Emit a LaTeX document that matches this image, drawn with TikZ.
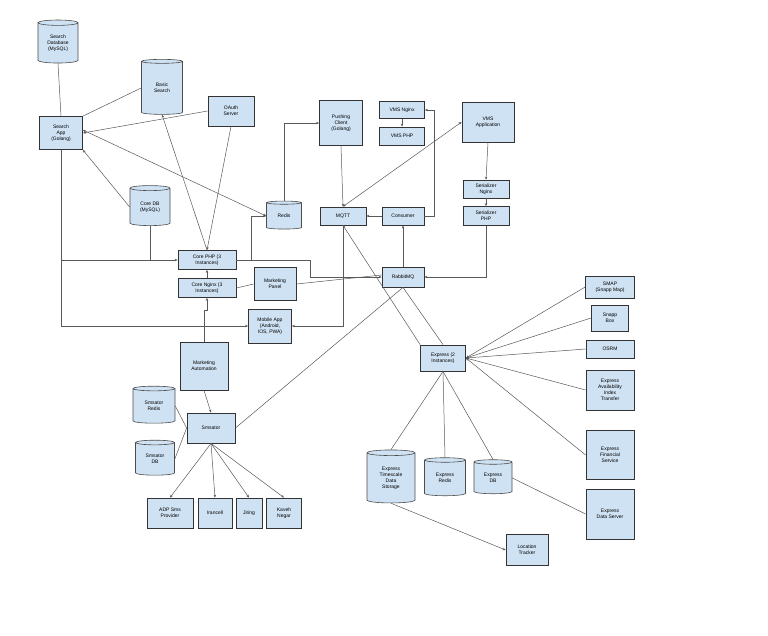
\documentclass[tikz,border=0pt]{standalone}
\usepackage{fontspec}
\setmainfont{Liberation Sans}
\usetikzlibrary{shapes.geometric,arrows.meta}
\begin{document}
\begin{tikzpicture}[x=1pt,y=-1pt,
  every node/.style={font=\fontsize{5}{6}\selectfont, align=center, inner sep=0pt},
  bx/.style={draw=black!80, line width=0.8pt, fill=blue!10!cyan!8!white, fill=boxc},
  cyl/.style={draw=black!70, line width=0.6pt, fill=boxc, cylinder, shape border rotate=90, aspect=0.25},
  ln/.style={draw=black!65, line width=0.5pt},
  ar/.style={ln, -{Stealth[length=3pt,width=2.5pt]}},
  ba/.style={ln, {Stealth[length=3pt,width=2.5pt]}-{Stealth[length=3pt,width=2.5pt]}}]
\definecolor{boxc}{HTML}{CFE2F3}
\useasboundingbox[fill=white] (0,0) rectangle (768,635);
% boxes
\newcommand{\bxn}[6]{\node[bx, minimum width=#4, minimum height=#5] (#1) at (#2,#3) {#6};}
\newcommand{\cyn}[6]{\node[cyl, minimum width=#4, minimum height=#5] (#1) at (#2,#3) {#6};}
\cyn{sdb}{58}{43}{40}{43}{Search\\Database\\(MySQL)}
\cyn{bs}{162}{88}{41}{55}{Basic\\Search}
\bxn{oa}{231}{111}{46}{30}{OAuth\\Server}
\bxn{sa}{61}{133}{43}{33}{Search\\App\\(Golang)}
\cyn{cdb}{150}{207}{40}{40}{Core DB\\(MySQL)}
\cyn{red}{284}{216}{35}{28}{Redis}
\bxn{pc}{341}{123}{43}{45}{Pushing\\Client\\(Golang)}
\bxn{vn}{402}{110}{45}{17}{VMS Nginx}
\bxn{vp}{402}{136}{45}{18}{VMS PHP}
\bxn{va}{488}{122}{52}{40}{VMS\\Application}
\bxn{mq}{343}{216}{46}{18}{MQTT}
\bxn{co}{403}{216}{42}{18}{Consumer}
\bxn{sn}{486}{189}{46}{18}{Serializer\\Nginx}
\bxn{sp}{486}{216}{46}{19}{Serializer\\PHP}
\bxn{cp}{207}{260}{58}{19}{Core PHP (3\\Instances)}
\bxn{cn}{207}{288}{58}{19}{Core Nginx (3\\Instances)}
\bxn{mp}{275}{284}{42}{33}{Marketing\\Panel}
\bxn{rb}{403}{277}{42}{20}{RabbitMQ}
\bxn{ma}{270}{326}{43}{34}{Mobile App\\(Android,\\IOS, PWA)}
\bxn{au}{204}{366}{48}{48}{Marketing\\Automation}
\cyn{sr}{154}{406}{42}{37}{Smsator\\Redis}
\bxn{sm}{211}{428}{48}{30}{Smsator}
\cyn{sd}{155}{459}{39}{35}{Smsator\\DB}
\bxn{adp}{170}{513}{46}{30}{ADP Sms\\Provider}
\bxn{ir}{215}{513}{34}{30}{Irancell}
\bxn{ji}{249}{513}{26}{30}{Jiring}
\bxn{kn}{284}{513}{35}{30}{Kaveh\\Negar}
\bxn{ex}{443}{358}{45}{26}{Express (2\\Instances)}
\bxn{smap}{610}{287}{49}{22}{SMAP\\(Snapp Map)}
\bxn{sb}{610}{318}{37}{26}{Snapp\\Box}
\bxn{os}{610}{349}{48}{18}{OSRM}
\bxn{eai}{610}{390}{48}{40}{Express\\Availability\\Index\\Transfer}
\bxn{efs}{610}{455}{48}{49}{Express\\Financial\\Service}
\bxn{eds}{610}{514}{48}{50}{Express\\Data Server}
\cyn{ets}{391}{478}{48}{53}{Express\\Timescale\\Data\\Storage}
\cyn{er}{445}{478}{41}{38}{Express\\Redis}
\cyn{edb}{493}{478}{38}{34}{Express\\DB}
\bxn{lt}{527}{550}{42}{31}{Location\\Tracker}
% edges
\draw[ln] (sdb.south) -- (sa.north);
\draw[ln] (bs.west) -- (sa.north east);
\draw[ar] (oa.west) -- (sa.east);
\draw[ba] (red.west) -- ([yshift=3pt]sa.east);
\draw[ar] (cdb.west) -- (sa.south east);
\draw[ar] (cp.north) -- (bs.south);
\draw[ar] (oa.south) -- (cp.north);
\draw[ar] (sa.south) |- (cp.west);
\draw[ln] (cdb.south) -- (cdb.south |- cp.west);
\draw[ar] (sa.south) |- (ma.west);
\draw[ar] (cp.east) -- (251,260) |- (red.west);
\draw[ar] (cp.east) -- (310,260) |- (rb.west);
\draw[ar] (red.north) |- (pc.west);
\draw[ar] (pc.south) -- (mq.north);
\draw[ar] (co.west) -- (mq.east);
\draw[ar] (co.east) -- (434,216) |- (vn.east);
\draw[ar] (vn.south) -- (vp.north);
\draw[ba] (mq.north) -- (va.west);
\draw[ar] (va.south) -- (sn.north);
\draw[ar] (sn.south) -- (sp.north);
\draw[ar] (sp.south) |- (rb.east);
\draw[ar] (rb.north) -- (co.south);
\draw[ln] (mp.west) -- (cn.east);
\draw[ln] (mp.east) -- ([yshift=2pt]rb.west);
\draw[ar] (mq.south) |- (ma.east);
\draw[ar] (cn.north) -- (cp.south);
\draw[ar] (au.north) -- (204,310) -- (207,310) -- (cn.south);
\draw[ar] (au.south) -- (sm.north);
\draw[ln] (sr.east) -- (sm.west);
\draw[ln] (sd.east) -- (sm.west);
\foreach \t in {adp,ir,ji,kn} \draw[ar] (sm.south) -- (\t.north);
\draw[ln] (sm.east) -- (rb.south);
\draw[ar] (ex.north west) -- (mq.south);
\draw[ln] (rb.south) -- (ex.north);
\foreach \t in {smap,sb,os,eai,efs} \draw[ar] (\t.west) -- (ex.east);
\draw[ln] (ex.south) -- (ets.north);
\draw[ln] (ex.south) -- (er.north);
\draw[ln] (ex.south) -- (edb.north);
\draw[ln] (edb.east) -- (eds.west);
\draw[ar] (ets.south) -- (lt.west);
\end{tikzpicture}
\end{document}
